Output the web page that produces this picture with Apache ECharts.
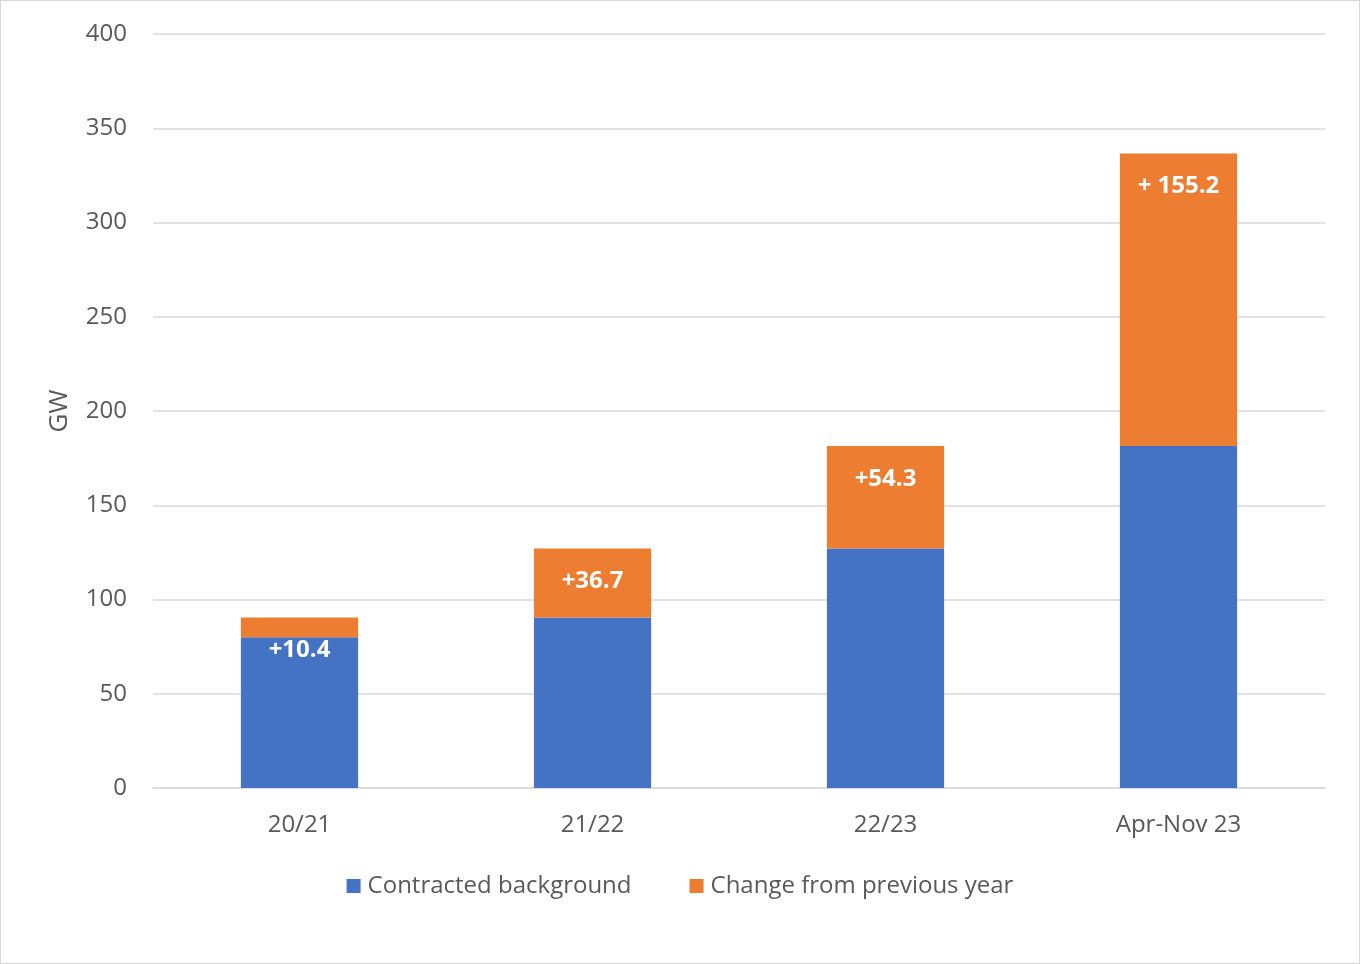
<!DOCTYPE html>
<html>
<head>
<meta charset="utf-8">
<script src="https://cdn.jsdelivr.net/npm/echarts@6/dist/echarts.min.js"></script>
<style>
html,body{margin:0;padding:0;background:#fff;}
#c{width:1360px;height:964px;box-sizing:border-box;border:1px solid #d9d9d9;}
</style>
</head>
<body>
<div id="c"></div>
<script>
const categories = ['20/21', '21/22', '22/23', 'Apr-Nov 23'];
const contracted = [80.0, 90.4, 127.1, 181.4];
const change = [10.4, 36.7, 54.3, 155.2];
const changeLabels = ['+10.4', '+36.7', '+54.3', '+ 155.2'];
const yTicks = {min: 0, max: 400, interval: 50};

const chart = echarts.init(document.getElementById('c'));
const font = '"Open Sans", "Noto Sans", sans-serif';
chart.setOption({
  animation: false,
  textStyle: {fontFamily: font},
  grid: {left: 152, right: 34, top: 33, bottom: 175, containLabel: false},
  legend: {
    bottom: 60, left: 'center',
    itemWidth: 14, itemHeight: 14, itemGap: 58,
    icon: 'rect',
    textStyle: {fontSize: 24, color: '#595959', fontFamily: font, padding: [0, 0, 0, 2]},
    data: ['Contracted background', 'Change from previous year']
  },
  xAxis: {
    type: 'category', data: categories,
    axisLine: {lineStyle: {color: '#d9d9d9', width: 1.5}},
    axisTick: {show: false},
    axisLabel: {fontSize: 24, color: '#595959', margin: 25, fontFamily: font}
  },
  yAxis: {
    type: 'value', min: yTicks.min, max: yTicks.max, interval: yTicks.interval,
    name: 'GW', nameLocation: 'middle', nameGap: 80, nameRotate: 90,
    nameTextStyle: {fontSize: 26, color: '#595959', fontFamily: font},
    axisLine: {show: false}, axisTick: {show: false},
    axisLabel: {fontSize: 24, color: '#595959', margin: 26, fontFamily: font},
    splitLine: {lineStyle: {color: '#d9d9d9', width: 1.5}}
  },
  series: [
    {
      name: 'Contracted background', type: 'bar', stack: 't',
      data: contracted, barWidth: '40%',
      itemStyle: {color: '#4472C4'}
    },
    {
      name: 'Change from previous year', type: 'bar', stack: 't',
      data: change, barWidth: '40%',
      itemStyle: {color: '#ED7D31'},
      label: {
        show: true, position: 'insideTop', distance: 21,
        formatter: p => changeLabels[p.dataIndex],
        color: '#fff', fontSize: 24, fontWeight: 'bold', fontFamily: font
      }
    }
  ]
});
</script>
</body>
</html>
